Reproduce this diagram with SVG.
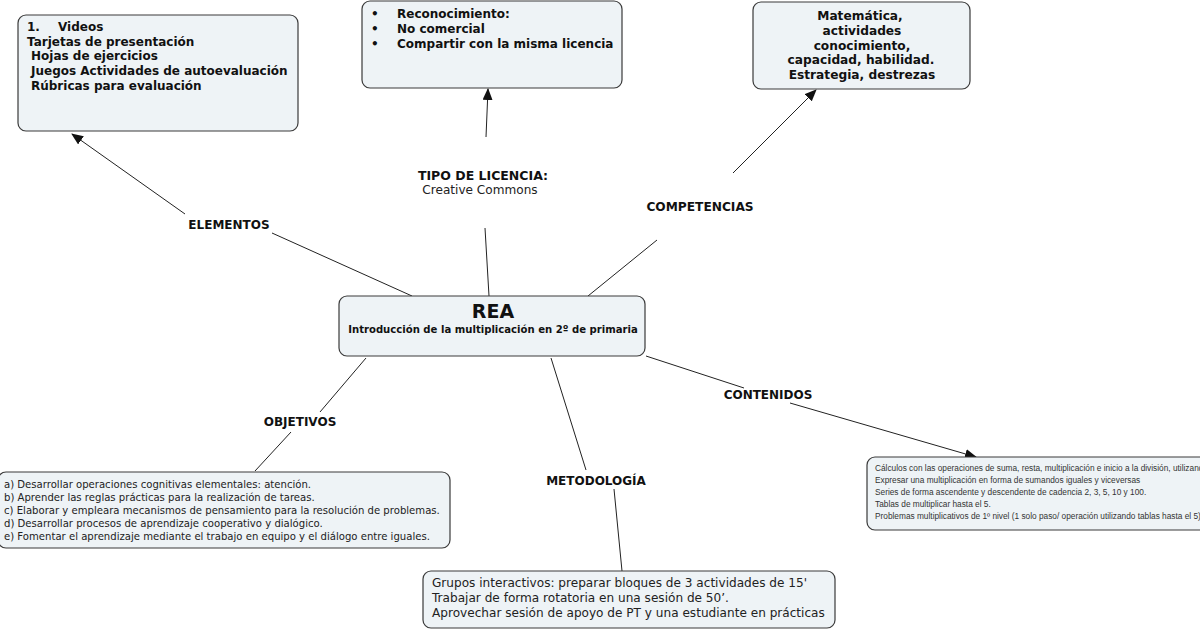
<svg xmlns="http://www.w3.org/2000/svg" width="1200" height="630" viewBox="0 0 1200 630">
<defs>
<style>
.box{fill:#eef3f6;stroke:#3a3a3a;stroke-width:1.2}
.b{font-family:"DejaVu Sans",Verdana,sans-serif;font-weight:bold;fill:#111}
.n{font-family:"DejaVu Sans",Verdana,sans-serif;fill:#222}
.a{font-family:"Liberation Sans",Arial,sans-serif;fill:#333}
.ln{stroke:#222;stroke-width:1;fill:none}
</style>
<marker id="ah" viewBox="0 0 12 10" refX="11" refY="5" markerWidth="12" markerHeight="10" markerUnits="userSpaceOnUse" orient="auto">
<path d="M0,0 L12,5 L0,10 Z" fill="#111"/>
</marker>
</defs>
<rect width="1200" height="630" fill="#fff"/>
<g id="connectors">
<line class="ln" x1="412" y1="296" x2="272" y2="233"/>
<line class="ln" x1="185" y1="214" x2="72" y2="134" marker-end="url(#ah)"/>
<line class="ln" x1="489" y1="296" x2="485" y2="228"/>
<line class="ln" x1="486" y1="137" x2="488" y2="89" marker-end="url(#ah)"/>
<line class="ln" x1="588" y1="296" x2="657" y2="240"/>
<line class="ln" x1="733" y1="173" x2="816" y2="90" marker-end="url(#ah)"/>
<line class="ln" x1="366" y1="358" x2="320" y2="412"/>
<line class="ln" x1="291" y1="432" x2="255" y2="471"/>
<line class="ln" x1="551" y1="358" x2="586" y2="470"/>
<line class="ln" x1="614" y1="489" x2="622" y2="571"/>
<line class="ln" x1="646" y1="356" x2="744" y2="388"/>
<line class="ln" x1="790" y1="403" x2="976" y2="457" marker-end="url(#ah)"/>
</g>
<g id="elementos-box">
<rect class="box" x="18" y="15" width="280" height="116" rx="8"/>
<text class="b" font-size="12" x="27" y="31">1.<tspan x="58">Videos</tspan></text>
<text class="b" font-size="12" x="27" y="46">Tarjetas de presentación</text>
<text class="b" font-size="12" x="31" y="60">Hojas de ejercicios</text>
<text class="b" font-size="12" x="31" y="75">Juegos Actividades de autoevaluación</text>
<text class="b" font-size="12" x="31" y="90">Rúbricas para evaluación</text>
</g>
<g id="licencia-box">
<rect class="box" x="362" y="1" width="260" height="87" rx="8"/>
<text class="b" font-size="12" x="371" y="18">•<tspan x="397">Reconocimiento:</tspan></text>
<text class="b" font-size="12" x="371" y="33">•<tspan x="397">No comercial</tspan></text>
<text class="b" font-size="12" x="371" y="48">•<tspan x="397">Compartir con la misma licencia</tspan></text>
</g>
<g id="competencias-box">
<rect class="box" x="753" y="2" width="217" height="87" rx="8"/>
<g text-anchor="middle">
<text class="b" font-size="12.2" x="860" y="20">Matemática,</text>
<text class="b" font-size="12.2" x="862" y="35">actividades</text>
<text class="b" font-size="12.2" x="862" y="50">conocimiento,</text>
<text class="b" font-size="12.2" x="861" y="64">capacidad, habilidad.</text>
<text class="b" font-size="12.2" x="862" y="79">Estrategia, destrezas</text>
</g>
</g>
<g id="rea">
<rect class="box" x="339" y="296" width="306" height="60" rx="8"/>
<text class="b" font-size="19" x="493" y="318" text-anchor="middle">REA</text>
<text class="b" font-size="10.1" x="493" y="333" text-anchor="middle">Introducción de la multiplicación en 2º de primaria</text>
</g>
<g id="label-elementos"><text class="b" font-size="12" x="229" y="229" text-anchor="middle">ELEMENTOS</text></g>
<g id="label-licencia">
<text class="b" font-size="12.5" x="483" y="180" text-anchor="middle">TIPO DE LICENCIA:</text>
<text class="n" font-size="12.1" x="480" y="194" text-anchor="middle">Creative Commons</text>
</g>
<g id="label-competencias"><text class="b" font-size="12.2" x="700" y="211" text-anchor="middle">COMPETENCIAS</text></g>
<g id="label-objetivos"><text class="b" font-size="12" x="300" y="426" text-anchor="middle">OBJETIVOS</text></g>
<g id="label-metodologia"><text class="b" font-size="12" x="596" y="485" text-anchor="middle">METODOLOGÍA</text></g>
<g id="label-contenidos"><text class="b" font-size="12" x="768" y="399" text-anchor="middle">CONTENIDOS</text></g>
<g id="objetivos-box">
<rect class="box" x="-2" y="472" width="452" height="76" rx="8"/>
<text class="n" font-size="10.1" x="4" y="488">a) Desarrollar operaciones cognitivas elementales:  atención.</text>
<text class="n" font-size="10.1" x="4" y="501">b) Aprender las reglas prácticas para la realización de tareas.</text>
<text class="n" font-size="10.1" x="4" y="514">c) Elaborar y empleara mecanismos de pensamiento para la resolución de problemas.</text>
<text class="n" font-size="10.1" x="4" y="527">d) Desarrollar procesos de aprendizaje cooperativo y dialógico.</text>
<text class="n" font-size="10.1" x="4" y="540">e) Fomentar el aprendizaje mediante el trabajo en equipo y el diálogo entre iguales.</text>
</g>
<g id="metodologia-box">
<rect class="box" x="423" y="571" width="412" height="57" rx="8"/>
<text class="n" font-size="12.1" x="432" y="587">Grupos interactivos: preparar bloques de 3 actividades de 15'</text>
<text class="n" font-size="12.1" x="432" y="602">Trabajar de forma rotatoria en una sesión de 50’.</text>
<text class="n" font-size="12.1" x="432" y="617">Aprovechar sesión de apoyo de PT y una estudiante en prácticas</text>
</g>
<g id="contenidos-box">
<rect class="box" x="867" y="457" width="345" height="73" rx="8"/>
<text class="a" font-size="8.3" x="875" y="471">Cálculos con las operaciones de suma, resta, multiplicación e inicio a la división, utilizando</text>
<text class="a" font-size="8.3" x="875" y="483">Expresar una multiplicación en forma de sumandos iguales y viceversas</text>
<text class="a" font-size="8.3" x="875" y="495">Series de forma ascendente y descendente de cadencia 2, 3, 5, 10 y 100.</text>
<text class="a" font-size="8.3" x="875" y="507">Tablas de multiplicar hasta el 5.</text>
<text class="a" font-size="8.3" x="875" y="519">Problemas multiplicativos de 1º nivel (1 solo paso/ operación utilizando tablas hasta el 5)</text>
</g>
</svg>
